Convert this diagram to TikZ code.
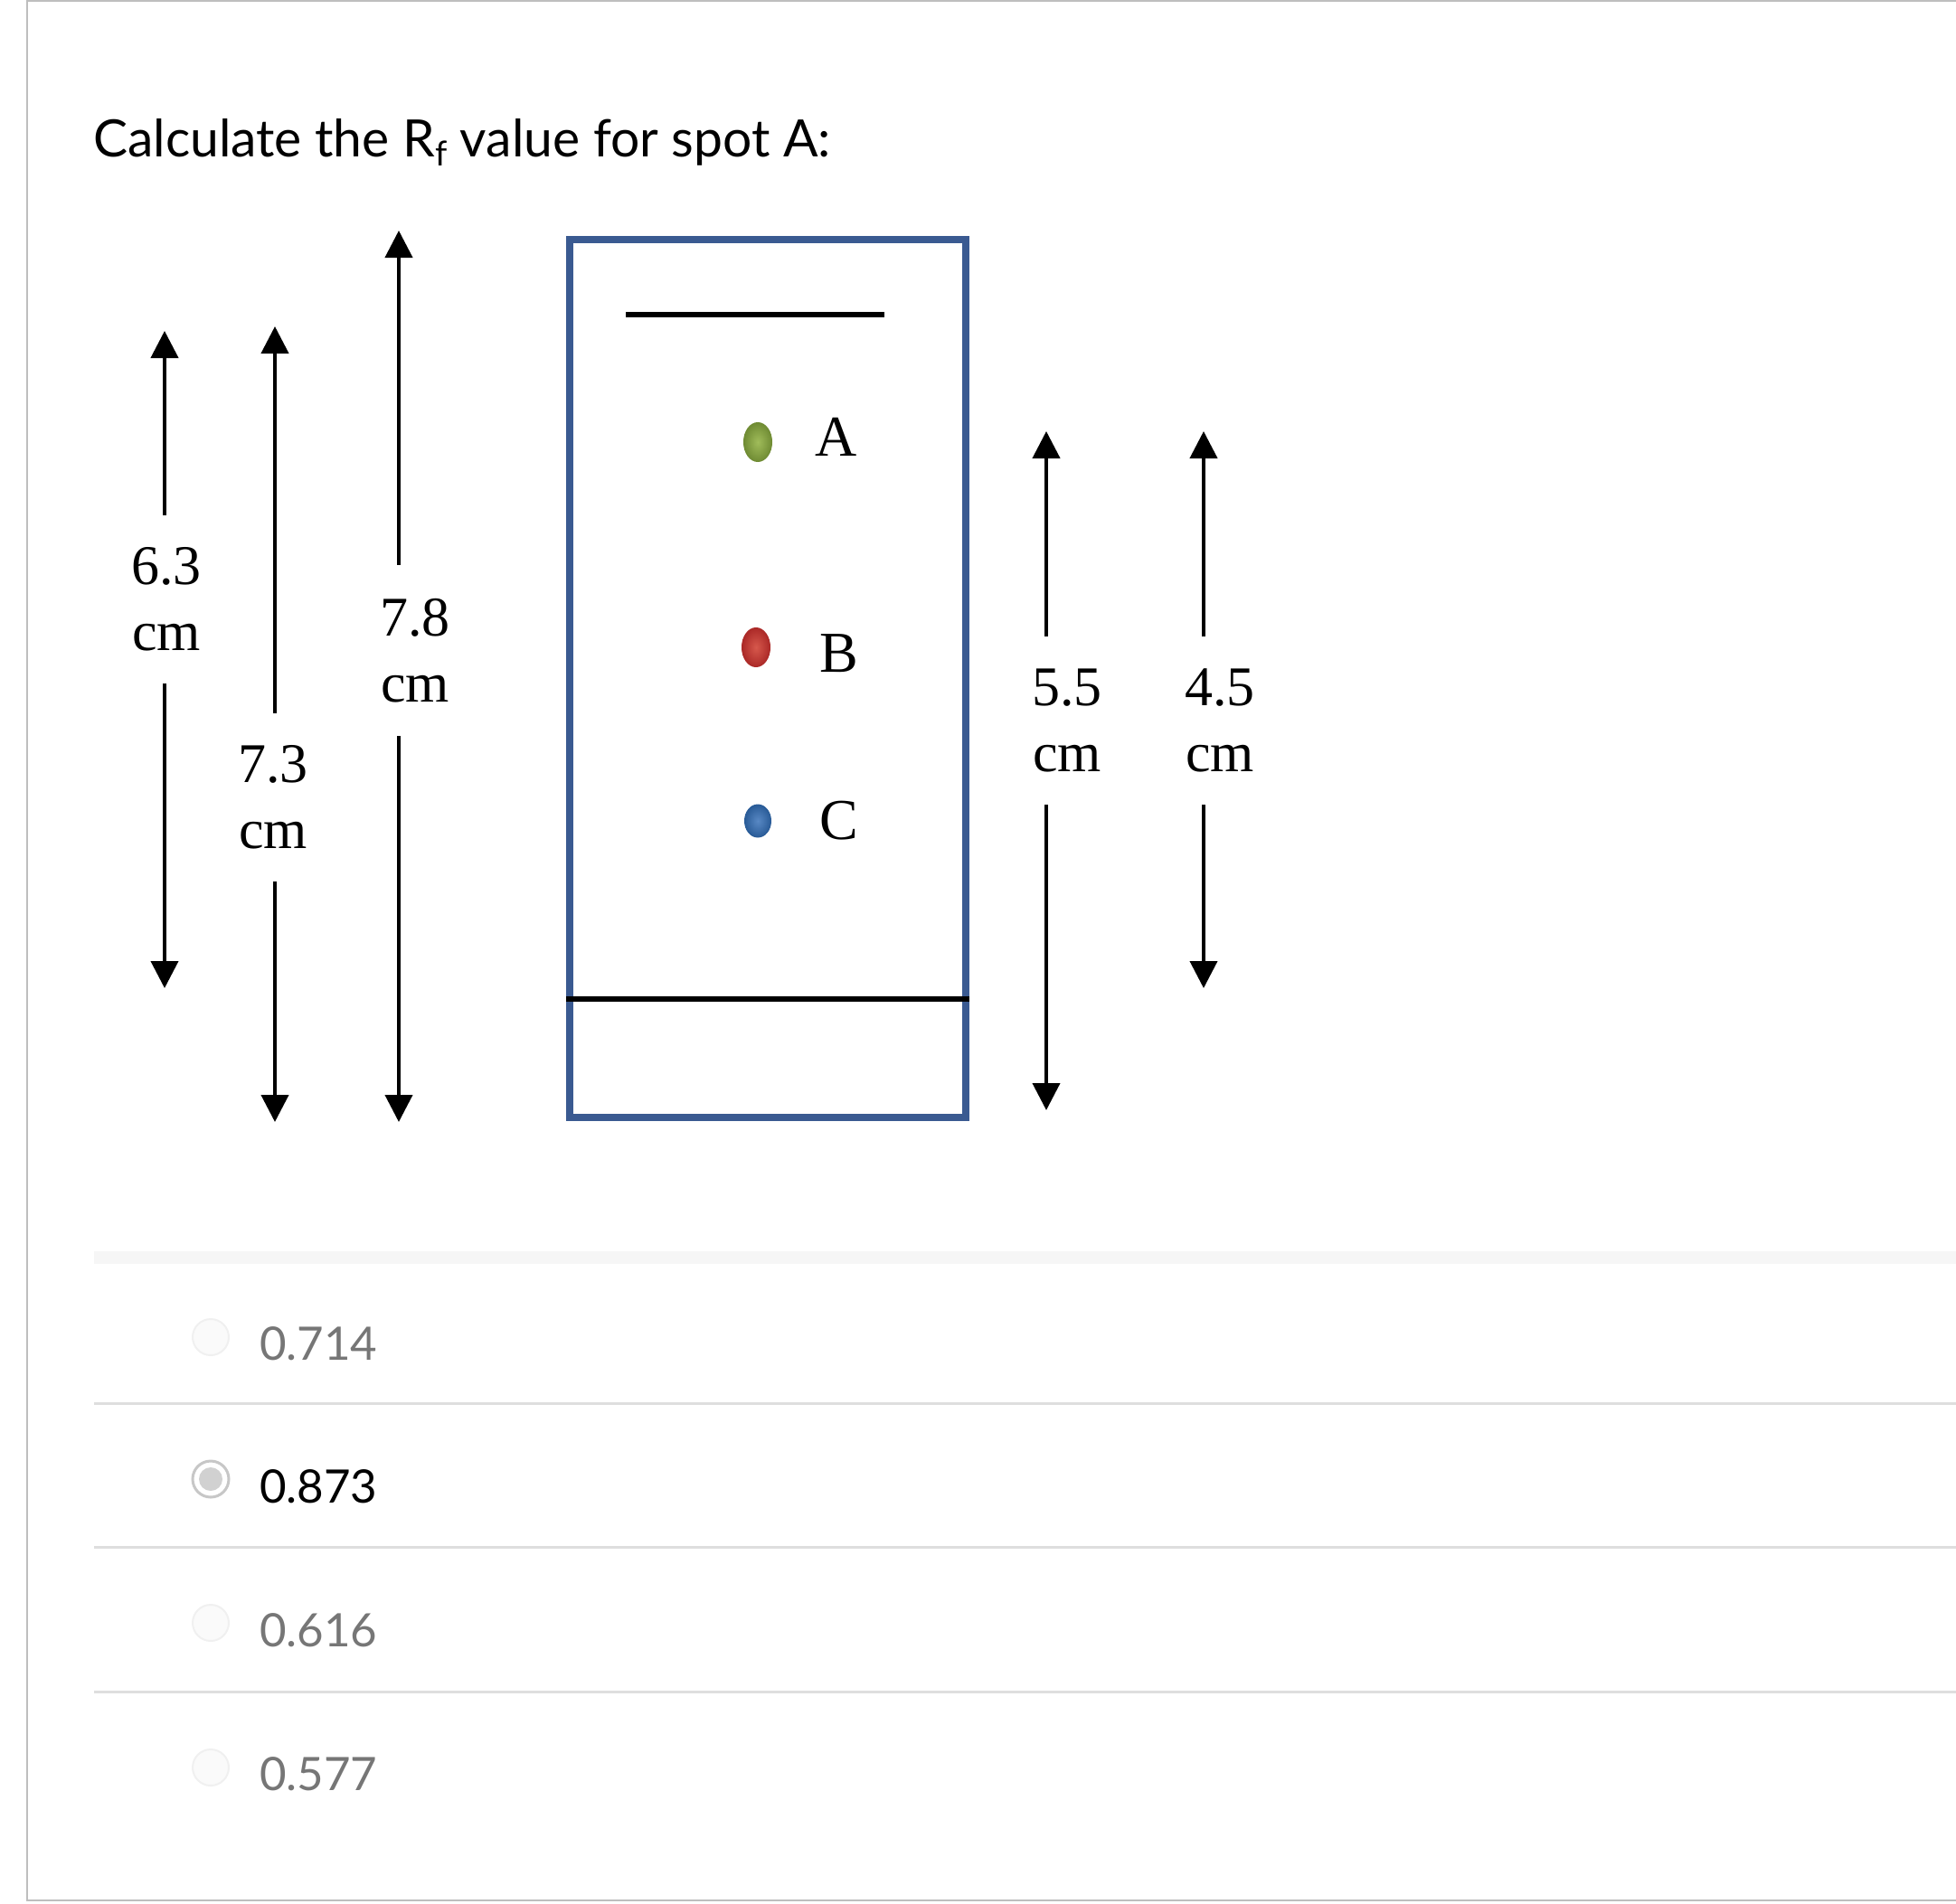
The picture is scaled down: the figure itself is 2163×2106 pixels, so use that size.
\documentclass[tikz,border=0pt]{standalone}
\usepackage{fontspec}
\setmainfont{Lato}
\newfontfamily\tnr{Liberation Serif}
\usetikzlibrary{arrows.meta,shapes.geometric}
\definecolor{plateblue}{RGB}{58,90,145}
\definecolor{framegray}{RGB}{190,190,190}
\definecolor{sepgray}{RGB}{222,222,222}
\definecolor{bandgray}{RGB}{246,246,246}
\definecolor{optgray}{RGB}{118,118,118}
\definecolor{spotAout}{RGB}{112,140,52}
\definecolor{spotAin}{RGB}{160,188,90}
\definecolor{spotBout}{RGB}{172,42,40}
\definecolor{spotBin}{RGB}{214,88,76}
\definecolor{spotCout}{RGB}{42,92,152}
\definecolor{spotCin}{RGB}{88,136,196}
\tikzset{
  dimline/.style={line width=4pt,-{Triangle[length=30pt,width=30pt]}},
  dimlabel/.style={font=\tnr\fontsize{62}{73}\selectfont,align=center,inner sep=0pt,minimum height=186pt},
  spotlabel/.style={font=\tnr\fontsize{64}{73}\selectfont,inner sep=0pt},
  spot/.style={ellipse,inner sep=0pt,minimum width=31pt,minimum height=43pt},
  tlcline/.style={line width=6pt},
  radio/.style={circle,inner sep=0pt,minimum size=40pt,line width=2pt},
  opttext/.style={anchor=base west,inner sep=0pt,font=\fontsize{51}{60}\selectfont},
  sepline/.style={draw=sepgray,line width=3pt}
}
\begin{document}
\begin{tikzpicture}[x=1pt,y=-1pt]
\useasboundingbox (0,0) rectangle (2163,2106);
% page frame
\coordinate (fr1) at (2163,1);
\coordinate (fr2) at (30,1);
\coordinate (fr3) at (30,2102);
\coordinate (fr4) at (2163,2102);
\draw[framegray,line width=2.5pt] (fr1) -- (fr2) -- (fr3) -- (fr4);
% title
\node[anchor=base west,inner sep=0pt,font=\fontsize{57}{66}\selectfont] (title) at (103,173) {Calculate the R\raisebox{-0.18em}{\fontsize{38}{40}\selectfont f} value for spot A:};
% TLC plate
\node[draw=plateblue,line width=8pt,minimum width=438pt,minimum height=971pt,inner sep=0pt] (plate) at (849,750.5) {};
\coordinate (sf1) at (692,348);
\coordinate (sf2) at (978,348);
\draw[tlcline] (sf1) -- (sf2);
\coordinate (bl) at (849,1105);
\draw[tlcline] (plate.west |- bl) -- (plate.east |- bl);
% spots
\node[spot,draw=spotAout,line width=1pt,inner color=spotAin,outer color=spotAout] (sa) at (838,489) {};
\node[spot,draw=spotBout,line width=1pt,inner color=spotBin,outer color=spotBout] (sb) at (836,716) {};
\node[spot,draw=spotCout,line width=1pt,inner color=spotCin,outer color=spotCout,minimum width=29pt,minimum height=36pt] (sc) at (838,908) {};
\node[spotlabel] (la) at (925,483) {A};
\node[spotlabel] (lb) at (928,723) {B};
\node[spotlabel] (lc) at (928,908) {C};
% dimension arrows
\coordinate (t1) at (182,366);   \coordinate (b1) at (182,1093);
\coordinate (t2) at (304,361);   \coordinate (b2) at (304,1241);
\coordinate (t3) at (441,255);   \coordinate (b3) at (441,1241);
\coordinate (t4) at (1157,477);  \coordinate (b4) at (1157,1228);
\coordinate (t5) at (1331,477);  \coordinate (b5) at (1331,1093);
\node[dimlabel] (d1) at (184,663) {6.3\\cm};
\node[dimlabel] (d2) at (302,882) {7.3\\cm};
\node[dimlabel,minimum height=189pt] (d3) at (459,719.5) {7.8\\cm};
\node[dimlabel] (d4) at (1180,797) {5.5\\cm};
\node[dimlabel] (d5) at (1349,797) {4.5\\cm};
\foreach \i in {1,...,5}{
  \draw[dimline] (d\i.north -| t\i) -- (t\i);
  \draw[dimline] (d\i.south -| b\i) -- (b\i);
}
% answer area
\fill[bandgray] (104,1384) rectangle (2163,1398);
\foreach \y/\n in {1552/s1,1711/s2,1871/s3}{
  \coordinate (\n a) at (104,\y);
  \coordinate (\n b) at (2163,\y);
  \draw[sepline] (\n a) -- (\n b);
}
\node[radio,draw=black!6,fill=black!2] (r1) at (233,1479) {};
\node[radio,draw=black!22,fill=white,line width=3pt] (r2) at (233,1636) {};
\node[circle,inner sep=0pt,minimum size=26pt,fill=black!18] (r2dot) at (r2.center) {};
\node[radio,draw=black!6,fill=black!2] (r3) at (233,1795) {};
\node[radio,draw=black!6,fill=black!2] (r4) at (233,1955) {};
\node[opttext,text=optgray] (o1) at (287,1504) {0.714};
\node[opttext,text=black] (o2) at (287,1662) {0.873};
\node[opttext,text=optgray] (o3) at (287,1821) {0.616};
\node[opttext,text=optgray] (o4) at (287,1980) {0.577};
\end{tikzpicture}
\end{document}
